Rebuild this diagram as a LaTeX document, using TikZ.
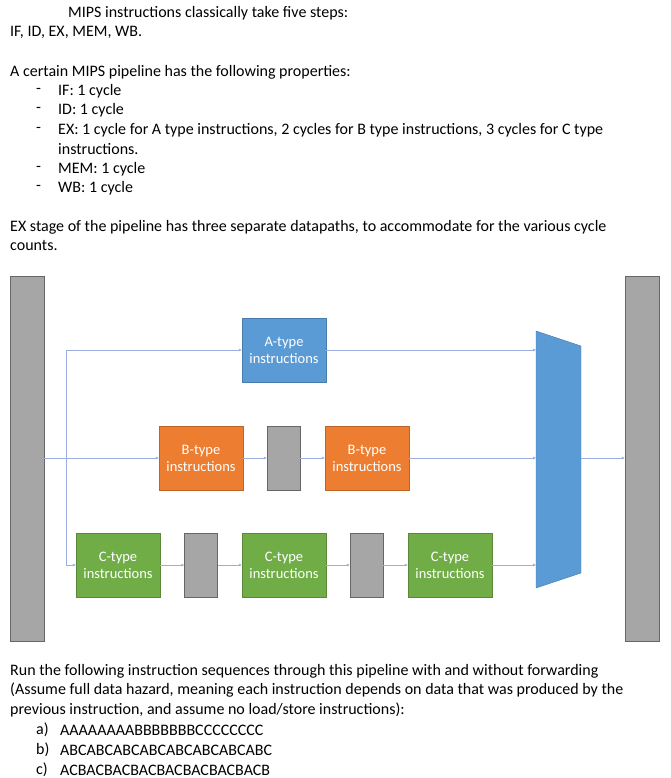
\documentclass[tikz,border=0pt]{standalone}
\usepackage{fontspec}
\setmainfont{Carlito}
\usetikzlibrary{arrows.meta}
\tikzset{
  txt/.style={anchor=west, inner sep=0pt, font=\fontsize{16}{19}\selectfont},
  unit/.style={draw=#1!80!black, fill=#1, minimum width=84pt, minimum height=64pt, text=white, align=center, font=\fontsize{14.5}{17}\selectfont, inner sep=0pt},
  reg/.style={draw=gray!80!black, fill=gray!70, minimum width=33pt, minimum height=64pt, inner sep=0pt},
  wire/.style={draw=cyan!40!blue!40, -{Latex[length=3pt,width=3pt]}}
}
\definecolor{atype}{RGB}{91,155,213}
\definecolor{btype}{RGB}{237,125,49}
\definecolor{ctype}{RGB}{112,173,71}
\begin{document}
\begin{tikzpicture}[x=1pt, y=-1pt]
  \useasboundingbox (0,0) rectangle (671,778);
  % text above
  \node[txt] (l1) at (68,13) {MIPS instructions classically take five steps:};
  \node[txt] (l2) at (10,32) {IF, ID, EX, MEM, WB.};
  \node[txt] (l3) at (10,72) {A certain MIPS pipeline has the following properties:};
  \foreach \y/\t in {91/{IF: 1 cycle}, 110/{ID: 1 cycle}, 130/{EX: 1 cycle for A type instructions, 2 cycles for B type instructions, 3 cycles for C type}, 169/{MEM: 1 cycle}, 188/{WB: 1 cycle}} {
    \node[txt] at (36,\y) {-};
    \node[txt] at (58,\y) {\t};
  }
  \node[txt] (l4) at (58,149) {instructions.};
  \node[txt] (l5) at (10,227) {EX stage of the pipeline has three separate datapaths, to accommodate for the various cycle};
  \node[txt] (l6) at (10,246) {counts.};
  % pipeline
  \node[reg, minimum width=34pt, minimum height=365pt] (idex) at (27,458.5) {};
  \node[reg, minimum width=34pt, minimum height=365pt] (exmem) at (642,458.5) {};
  \node[unit=atype] (a) at (284,350) {A-type\\instructions};
  \node[unit=btype] (b1) at (201,458) {B-type\\instructions};
  \node[reg] (rb) at (283.5,458) {};
  \node[unit=btype] (b2) at (367,458) {B-type\\instructions};
  \node[unit=ctype] (c1) at (118,565) {C-type\\instructions};
  \node[reg] (rc1) at (201,565) {};
  \node[unit=ctype] (c2) at (284,565) {C-type\\instructions};
  \node[reg] (rc2) at (366.5,565) {};
  \node[unit=ctype] (c3) at (450,565) {C-type\\instructions};
  \draw[draw=atype!80!black, fill=atype] (536,331) -- (581,346) -- (581,573) -- (536,588) -- cycle;
  \coordinate (muxa) at (536,350);
  \coordinate (muxb) at (536,458);
  \coordinate (muxc) at (536,565);
  \coordinate (muxo) at (581,458);
  \coordinate (fork) at (66,458);
  % connectors
  \draw[wire] (idex.east |- b1) -- (b1);
  \draw[wire] (fork) |- (a);
  \draw[wire] (fork) |- (c1);
  \draw[wire] (b1) -- (rb);
  \draw[wire] (rb) -- (b2);
  \draw[wire] (b2) -- (muxb);
  \draw[wire] (a) -- (muxa);
  \draw[wire] (c1) -- (rc1);
  \draw[wire] (rc1) -- (c2);
  \draw[wire] (c2) -- (rc2);
  \draw[wire] (rc2) -- (c3);
  \draw[wire] (c3) -- (muxc);
  \draw[wire] (muxo) -- (exmem.west |- muxo);
  % text below
  \node[txt] (l7) at (10,671) {Run the following instruction sequences through this pipeline with and without forwarding};
  \node[txt] (l8) at (10,690) {(Assume full data hazard, meaning each instruction depends on data that was produced by the};
  \node[txt] (l9) at (10,710) {previous instruction, and assume no load/store instructions):};
  \foreach \y/\l/\t in {730/a)/AAAAAAAABBBBBBBCCCCCCCC, 750/b)/ABCABCABCABCABCABCABCABC, 770/c)/ACBACBACBACBACBACBACBACB} {
    \node[txt] at (36,\y) {\l};
    \node[txt] at (60,\y) {\t};
  }
\end{tikzpicture}
\end{document}
